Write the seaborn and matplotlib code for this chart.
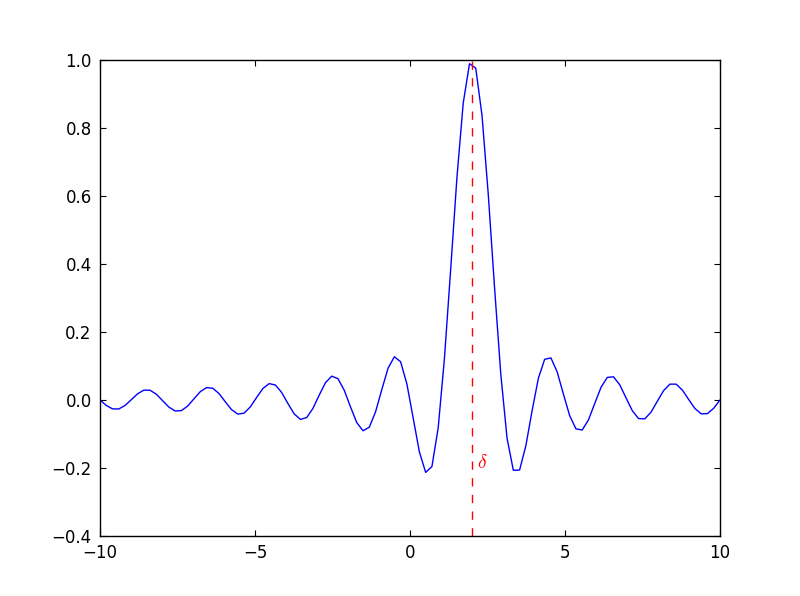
import numpy as np
import matplotlib
matplotlib.use("Agg")
import matplotlib.pyplot as plt
import seaborn as sns

# Sample positions (100 evenly spaced points on [-10, 10])
x_values = np.linspace(-10, 10, 100)

# Curve values
y_values = [
    0.0, -0.0160, -0.0262, -0.0264, -0.0161, 0.0009, 0.0182, 0.0290, 0.0286, 0.0169,
    -0.0020, -0.0209, -0.0323, -0.0313, -0.0178, 0.0034, 0.0242, 0.0364, 0.0346, 0.0190,
    -0.0051, -0.0283, -0.0415, -0.0388, -0.0204, 0.0072, 0.0336, 0.0481, 0.0442, 0.0223,
    -0.0102, -0.0407, -0.0571, -0.0517, -0.0249, 0.0142, 0.0509, 0.0701, 0.0626, 0.0287,
    -0.0204, -0.0665, -0.0905, -0.0800, -0.0350, 0.0308, 0.0936, 0.1271, 0.1126, 0.0473,
    -0.0523, -0.1528, -0.2129, -0.1959, -0.0822, 0.1225, 0.3858, 0.6558, 0.8735, 0.9891,
    0.9761, 0.8368, 0.6041, 0.3308, 0.0755, -0.1128, -0.2067, -0.2060, -0.1346, -0.0311,
    0.0639, 0.1197, 0.1238, 0.0826, 0.0171, -0.0463, -0.0850, -0.0882, -0.0585, -0.0102,
    0.0372, 0.0664, 0.0682, 0.0445, 0.0061, -0.0316, -0.0546, -0.0555, -0.0354, -0.0034,
    0.0278, 0.0466, 0.0466, 0.0290, 0.0014, -0.0251, -0.0407, -0.0400, -0.0242, 0.0,
]

delta_x = 2.0
delta_label = r"$\delta$"

sns.set_style("white")
plt.rcParams["mathtext.fontset"] = "cm"
plt.rcParams["font.family"] = ["DejaVu Sans"]

fig = plt.figure(figsize=(8, 5.96), dpi=100)
ax = fig.add_axes([0.125, 0.1007, 0.775, 0.7986])

sns.lineplot(x=x_values, y=y_values, color="blue", linewidth=1.0, ax=ax)
ax.axvline(delta_x, color="red", linestyle="--", linewidth=1.0, dashes=(6, 6))
ax.text(delta_x + 0.17, -0.185, delta_label, color="red", fontsize=14,
        ha="left", va="center")

ax.set_xlim(-10, 10)
ax.set_ylim(-0.4, 1.0)
ax.set_xticks([-10, -5, 0, 5, 10])
ax.set_yticks([-0.4, -0.2, 0.0, 0.2, 0.4, 0.6, 0.8, 1.0])
ax.set_yticklabels(["\u22120.4", "\u22120.2", "0.0", "0.2", "0.4", "0.6", "0.8", "1.0"])
ax.set_xticklabels(["\u221210", "\u22125", "0", "5", "10"])

ax.tick_params(direction="in", length=4, width=0.8, top=True, right=True,
               bottom=True, left=True, labelsize=12, colors="black", pad=6)
for side in ["top", "right", "bottom", "left"]:
    ax.spines[side].set_visible(True)
    ax.spines[side].set_color("black")
    ax.spines[side].set_linewidth(1.0)
ax.grid(False)

fig.savefig("out.png", dpi=100, facecolor="white")
